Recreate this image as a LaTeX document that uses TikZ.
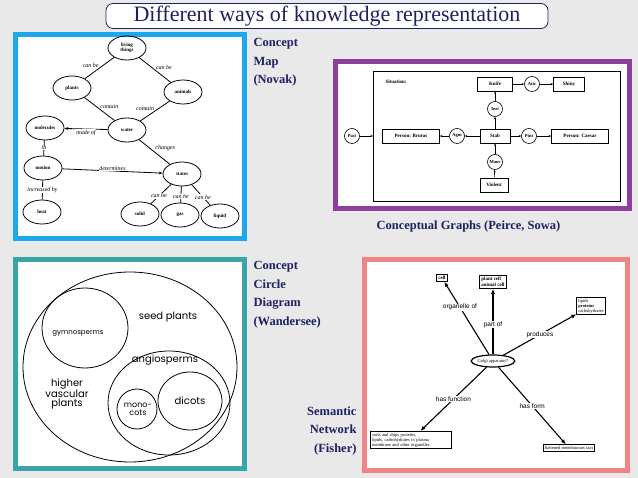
\documentclass[tikz,border=0pt]{standalone}
\usepackage{fontspec}
\setmainfont{Liberation Serif}
\newfontfamily\hand{Poppins}
\newfontfamily\sans{Liberation Sans}
\usetikzlibrary{shapes.geometric,arrows.meta}
\definecolor{navy}{HTML}{1F1F66}
\definecolor{bg}{HTML}{E9E9E9}
\definecolor{fblue}{HTML}{1CA8EC}
\definecolor{fpurple}{HTML}{8E3F9E}
\definecolor{fteal}{HTML}{3AA5A8}
\definecolor{fpink}{HTML}{F08484}
\begin{document}
\begin{tikzpicture}[x=1pt,y=-1pt,
 frame/.style={line width=5pt,fill=white},
 lab/.style={font=\bfseries\fontsize{12.5}{18.5}\selectfont,text=navy,align=left,anchor=north west},
 cmn/.style={ellipse,draw,thick,minimum width=38pt,minimum height=24pt,inner sep=0pt,font=\bfseries\fontsize{5}{5.5}\selectfont,align=center},
 cml/.style={font=\itshape\fontsize{6}{6}\selectfont,fill=white,inner sep=0.5pt},
 cgr/.style={rectangle,draw,semithick,minimum height=14pt,inner sep=2pt,font=\bfseries\fontsize{5}{6}\selectfont},
 cgc/.style={circle,draw,semithick,minimum size=15pt,inner sep=0pt,font=\bfseries\fontsize{4.5}{5}\selectfont},
 ca/.style={-{Stealth[length=2.5pt,width=2pt]},semithick},
 sn/.style={rectangle,draw,line width=1pt,inner sep=1.5pt,font=\fontsize{4.5}{5}\selectfont,align=left},
 sa/.style={-{Latex[length=5pt,width=4pt]},line width=1.1pt},
 snl/.style={font=\sans\fontsize{6.5}{7}\selectfont,fill=white,inner sep=0.5pt},
 hw/.style={font=\hand\fontsize{8.5}{9}\selectfont,align=center}]
\useasboundingbox[fill=bg] (0,0) rectangle (638,478);
% title
\node[draw=navy,thick,fill=white,rounded corners=7pt,minimum width=442pt,minimum height=25pt,inner sep=0pt,text=navy,font=\fontsize{22}{24}\selectfont] (title) at (327,16) {Different ways of knowledge representation};
% frames
\draw[frame,draw=fblue] (15,35) rectangle (244,239);
\draw[frame,draw=fpurple] (335,62) rectangle (629,209);
\draw[frame,draw=fteal] (15,260) rectangle (244,469);
\draw[frame,draw=fpink] (364,260) rectangle (627,471);
% labels
\node[lab] (l1) at (250,35) {Concept\\Map\\(Novak)};
\node[lab] (l2) at (373,217) {Conceptual Graphs (Peirce, Sowa)};
\node[lab] (l3) at (250,258) {Concept\\Circle\\Diagram\\(Wandersee)};
\node[lab,align=right,anchor=north east] (l4) at (360,403) {Semantic\\Network\\(Fisher)};
% concept map
\node[cmn] (lt) at (127,48) {living\\things};
\node[cmn] (pl) at (72,88) {plants};
\node[cmn] (an) at (183,92) {animals};
\node[cmn] (wa) at (127,130) {water};
\node[cmn] (mo) at (45,128) {molecules};
\node[cmn] (mt) at (43,168) {motion};
\node[cmn] (st) at (182,174) {states};
\node[cmn] (he) at (42,212) {heat};
\node[cmn] (so) at (140,214) {solid};
\node[cmn] (ga) at (180,215) {gas};
\node[cmn] (li) at (220,216) {liquid};
\draw[thick] (lt) -- node[cml,above left,fill=none]{can be} (pl);
\draw[thick] (lt) -- node[cml,above right,fill=none]{can be} (an);
\draw[thick] (pl) -- node[cml,above right,fill=none]{contain} (wa);
\draw[thick] (an) -- node[cml,above left,fill=none]{contain} (wa);
\draw[thick,-{Stealth[length=4pt]}] (wa) -- node[cml,below]{made of} (mo);
\draw[thick] (wa) -- node[cml,above right,fill=none]{changes} (st);
\draw[thick] (mo) -- node[cml]{in} (mt);
\draw[thick,-{Stealth[length=4pt]}] (mt) -- node[cml,above]{determines} (st);
\draw[thick] (mt) -- node[cml]{increased by} (he);
\draw[thick] (st) -- node[cml,pos=0.6]{can be} (so);
\draw[thick] (st) -- node[cml,pos=0.6]{can be} (ga);
\draw[thick] (st) -- node[cml,pos=0.6]{can be} (li);
% conceptual graph
\draw[semithick] (373,71) rectangle (620,201);
\node[font=\bfseries\fontsize{5}{6}\selectfont,anchor=west] (sit) at (382,82) {Situation:};
\coordinate (boxl) at (373,136);
\node[cgr,minimum width=35pt] (kn) at (495,84) {Knife};
\node[cgc] (at) at (532,84) {Attr};
\node[cgr,minimum width=31pt] (sh) at (569,84) {Shiny};
\node[cgc] (in) at (495,109) {Inst};
\node[cgr,minimum width=30pt] (sb) at (495,136) {Stab};
\node[cgc] (pa) at (352,136) {Past};
\node[cgr,minimum width=57pt] (br) at (411,136) {Person: Brutus};
\node[cgc] (ag) at (457,136) {Agnt};
\node[cgc] (pc) at (529,136) {Ptnt};
\node[cgr,minimum width=57pt] (ca) at (580,136) {Person: Caesar};
\node[cgc] (mn) at (495,162) {Manr};
\node[cgr,minimum width=28pt] (vi) at (494,185) {Violent};
\draw[ca] (pa) -- (boxl);
\draw[ca] (sb) -- (ag); \draw[ca] (ag) -- (br);
\draw[ca] (sb) -- (pc); \draw[ca] (pc) -- (ca);
\draw[ca] (sb) -- (in); \draw[ca] (in) -- (kn);
\draw[ca] (kn) -- (at); \draw[ca] (at) -- (sh);
\draw[ca] (vi) -- (mn); \draw[ca] (mn) -- (sb);
% circle diagram
\draw[thick] (130,367) ellipse (107pt and 95pt);
\draw[thick] (85,328) ellipse (43pt and 40pt);
\draw[thick] (169,403) ellipse (61pt and 52pt);
\draw[thick] (137,409) circle (20pt);
\draw[thick] (190,401) ellipse (32pt and 29pt);
\node[hw,font=\hand\fontsize{10}{10}\selectfont] (t1) at (168,317) {seed plants};
\node[hw,font=\hand\fontsize{7}{7}\selectfont] (t2) at (78,333) {gymnosperms};
\node[hw,font=\hand\fontsize{10}{10}\selectfont] (t3) at (165,360) {angiosperms};
\node[hw,font=\hand\fontsize{10}{9}\selectfont] (t4) at (67,394) {higher\\vascular\\plants};
\node[hw,font=\hand\fontsize{8}{8}\selectfont] (t5) at (138,409) {mono-\\cots};
\node[hw,font=\hand\fontsize{10}{10}\selectfont] (t6) at (190,401) {dicots};
% semantic network
\node[sn,font=\bfseries\fontsize{5}{6}\selectfont] (ce) at (442,278) {cell};
\node[sn,font=\bfseries\fontsize{5}{6}\selectfont] (pcl) at (493,282) {plant cell\\animal cell};
\node[sn] (lp) at (591,306) {lipids\\\textbf{proteins}\\carbohydrates};
\node[ellipse,draw,line width=1.2pt,minimum width=38pt,minimum height=12pt,inner sep=0pt,font=\fontsize{4.5}{5}\selectfont] (go) at (493,361) {Golgi apparatus*};
\node[sn,text width=78pt] (so2) at (411,440) {sorts and ships proteins,\\lipids, carbohydrates to plasma\\membrane and other organelles};
\node[sn] (fl) at (569,448) {flattened membranous sacs};
\draw[sa] (go) -- node[snl,pos=0.65]{organelle of} (ce);
\draw[sa] (go) -- node[snl,pos=0.45]{part of} (pcl);
\draw[sa] (go) -- node[snl,pos=0.5]{produces} (lp);
\draw[sa] (go) -- node[snl,pos=0.5]{has function} (so2);
\draw[sa] (go) -- node[snl,pos=0.5]{has form} (fl);
\end{tikzpicture}
\end{document}
